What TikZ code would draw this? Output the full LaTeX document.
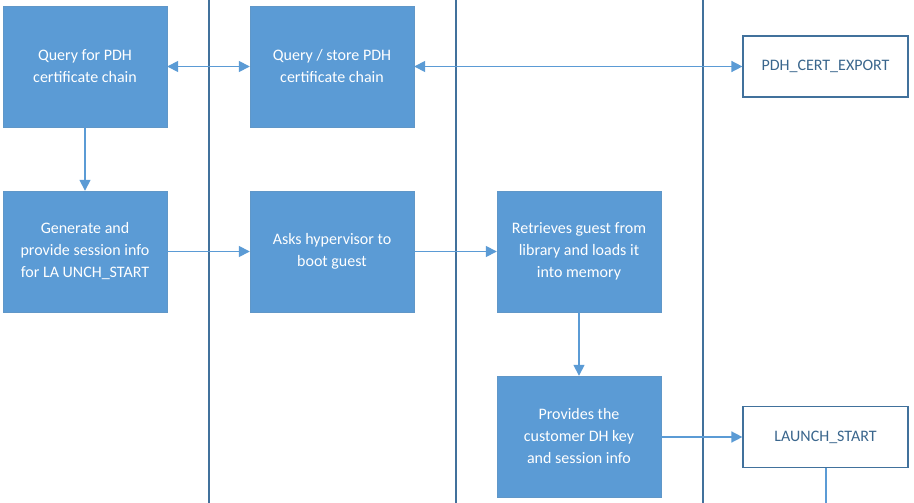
\documentclass[tikz,border=0pt]{standalone}
\usepackage{fontspec}
\setmainfont{Carlito}
\usetikzlibrary{arrows.meta}
\definecolor{bfill}{HTML}{5B9BD5}
\definecolor{lane}{HTML}{41719C}
\definecolor{wline}{HTML}{41719C}
\begin{document}
\begin{tikzpicture}[x=1pt,y=-1pt,
  blue/.style={draw=bfill!85!gray,fill=bfill,minimum width=164,minimum height=121,inner sep=0,text=white,align=center,font=\fontsize{16}{22}\selectfont},
  wbox/.style={draw=wline,line width=1.2pt,fill=white,minimum width=165,minimum height=61,inner sep=0,text=wline!90!black,font=\fontsize{16}{20}\selectfont},
  arr/.style={draw=bfill,line width=1.5pt,-{Triangle[length=11pt,width=11pt]}},
  darr/.style={draw=bfill,line width=1.5pt,{Triangle[length=11pt,width=11pt]}-{Triangle[length=11pt,width=11pt]}}]
\useasboundingbox (0,0) rectangle (914,503);
\foreach \x/\n in {209/l1,456/l2,703/l3}{\draw[lane,line width=1.5pt] (\x,0) -- (\x,503);}
\node[blue] (q1) at (85,66.5) {Query for PDH\\certificate chain};
\node[blue] (q2) at (332,66.5) {Query / store PDH\\certificate chain};
\node[blue] (g) at (85,251.5) {Generate and\\provide session info\\for LA UNCH\_START};
\node[blue] (h) at (332,251.5) {Asks hypervisor to\\boot guest};
\node[blue] (r) at (579,251.5) {Retrieves guest from\\library and loads it\\into memory};
\node[blue] (p) at (579,436.5) {Provides the\\customer DH key\\and session info};
\node[wbox] (e) at (825.5,66.5) {PDH\_CERT\_EXPORT};
\node[wbox] (s) at (825.5,437) {LAUNCH\_START};
\coordinate (send) at (826,503);
\draw[darr] (q1) -- (q2);
\draw[darr] (q2) -- (e);
\draw[arr] (q1) -- (g);
\draw[arr] (g) -- (h);
\draw[arr] (h) -- (r);
\draw[arr] (r) -- (p);
\draw[arr] (p.east|-s) -- (s);
\draw[bfill,line width=1.5pt] (s.south-|send) -- (send);
\end{tikzpicture}
\end{document}
